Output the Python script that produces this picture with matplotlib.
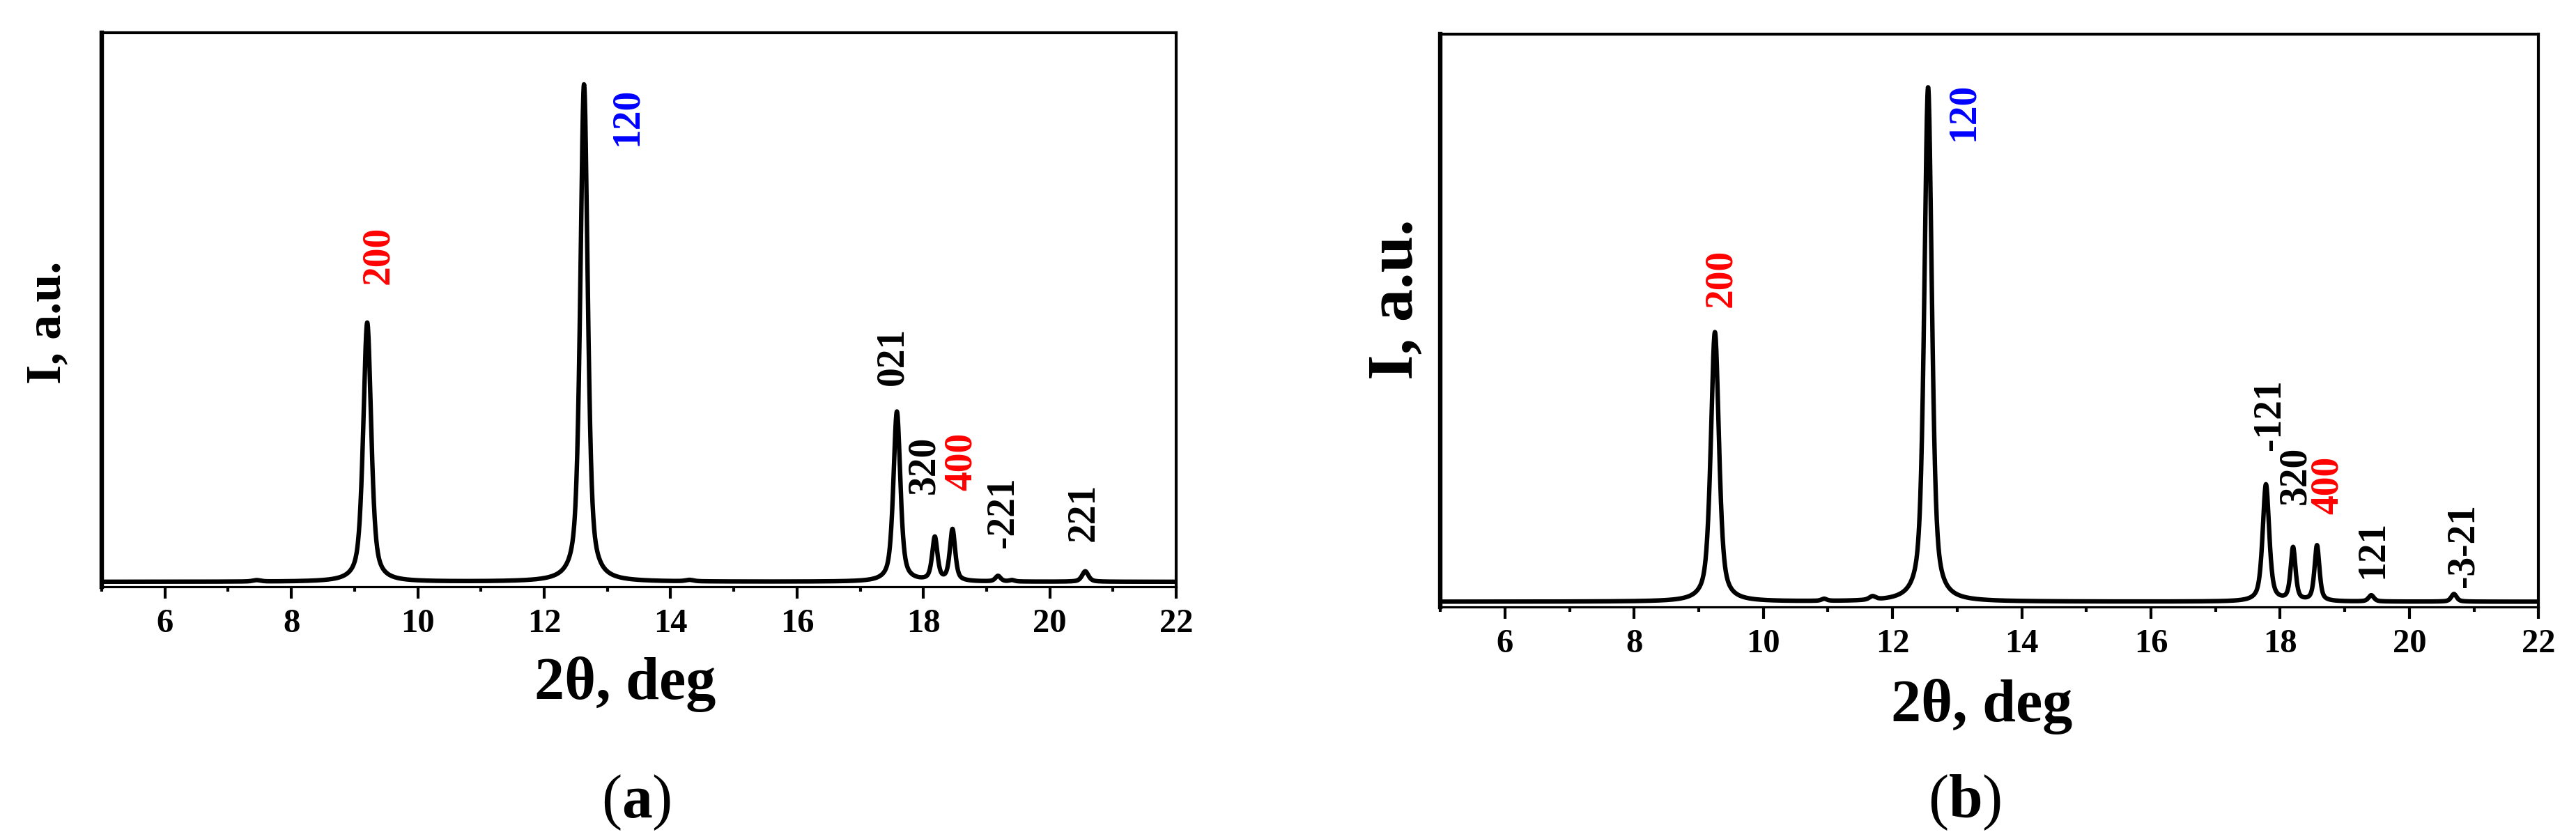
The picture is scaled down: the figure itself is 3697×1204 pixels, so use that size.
import numpy as np
import matplotlib
matplotlib.use('Agg')
import matplotlib.pyplot as plt
from matplotlib.ticker import MultipleLocator

plt.rcParams['font.family'] = ['Liberation Serif', 'DejaVu Serif']
plt.rcParams['font.weight'] = 'bold'
plt.rcParams['mathtext.fontset'] = 'custom'
plt.rcParams['mathtext.rm'] = 'Liberation Serif'
plt.rcParams['mathtext.bf'] = 'Liberation Serif:bold'

# peak table: position (2theta), height (a.u.), fwhm (deg)
pos_a = [7.45, 9.20, 12.63, 14.30, 17.58, 18.18, 18.46, 19.18, 19.40, 20.56]
amp_a = [2, 372, 714, 2, 244, 62, 74, 8, 2, 15]
fwhm_a = [0.15, 0.15, 0.14, 0.15, 0.13, 0.10, 0.10, 0.10, 0.10, 0.12]

pos_b = [9.25, 10.94, 11.69, 12.55, 17.78, 18.20, 18.57, 19.41, 20.69]
amp_b = [387, 3, 5, 739, 168, 76, 80, 9, 11]
fwhm_b = [0.15, 0.10, 0.12, 0.14, 0.12, 0.09, 0.09, 0.10, 0.10]

# reflection labels
hkl_a = ['200', '120', '021', '320', '400', '-221', '221']
col_a = ['red', 'blue', 'black', 'black', 'red', 'black', 'black']
hkl_b = ['200', '120', '-121', '320', '400', '121', '-3-21']
col_b = ['red', 'blue', 'black', 'black', 'red', 'black', 'black']

# label anchor points (2theta, intensity)
lx_a = [9.38, 13.31, 17.52, 18.01, 18.60, 19.26, 20.54]
ly_a = [469, 668, 324, 168, 173, 100, 100]
lx_b = [9.35, 13.10, 17.84, 18.24, 18.74, 19.44, 20.84]
ly_b = [464, 704, 268, 181, 167, 75, 81]


def pattern(x, pos, amp, fwhm, eta=0.6):
    y = np.zeros_like(x)
    for p, a, w in zip(pos, amp, fwhm):
        d = (x - p) / (w / 2)
        lor = 1.0 / (1 + d**2)
        gau = np.exp(-np.log(2) * d**2)
        y += a * (eta * lor + (1 - eta) * gau)
    return y


tt = np.linspace(5, 22, 4001)

fig = plt.figure(figsize=(36.98, 12.04), dpi=100)
ax1 = fig.add_axes([0.0395, 0.3003, 0.4170, 0.6607])
ax2 = fig.add_axes([0.5590, 0.2766, 0.4262, 0.6827])

panels = [
    (ax1, pos_a, amp_a, fwhm_a, hkl_a, col_a, lx_a, ly_a, 788, 52, (-0.0389, 0.477), (0.487, -0.2018)),
    (ax2, pos_b, amp_b, fwhm_b, hkl_b, col_b, lx_b, ly_b, 815, 68, (-0.0254, 0.5365), (0.493, -0.1995)),
]

for ax, pos, amp, fw, hkl, col, lx, ly, ytop, ysize, ylc, xlc in panels:
    ax.plot(tt, pattern(tt, pos, amp, fw), color='black', lw=4.6)
    for t, c, x, y in zip(hkl, col, lx, ly):
        ax.text(x, y, t, color=c, rotation=90, ha='center', va='center',
                fontsize=40, fontweight='bold')
    ax.set_xlim(5, 22)
    ax.set_ylim(-7.5, ytop)
    ax.xaxis.set_major_locator(MultipleLocator(2))
    ax.xaxis.set_minor_locator(MultipleLocator(1))
    ax.tick_params(axis='x', which='major', direction='out', length=12, width=3,
                   labelsize=35, pad=10, top=False)
    ax.tick_params(axis='x', which='minor', direction='out', length=5, width=3, top=False)
    ax.tick_params(axis='y', which='both', left=False, right=False, labelleft=False)
    ax.spines['left'].set_linewidth(4.6)
    ax.spines['top'].set_linewidth(3)
    ax.spines['right'].set_linewidth(3)
    ax.spines['bottom'].set_linewidth(2.3)

    ax.set_xlabel('2θ, deg', fontsize=62, fontweight='bold')
    ax.xaxis.set_label_coords(*xlc)
    ax.xaxis.label.set_verticalalignment('baseline')
    ax.set_ylabel('I, a.u.', fontsize=ysize, fontweight='bold')
    ax.yaxis.set_label_coords(*ylc)
    ax.yaxis.label.set_verticalalignment('baseline')

fig.text(913 / 3698, 1 - 1173 / 1204, r'($\mathbf{a}$)', fontsize=63,
         fontweight='normal', ha='center', va='baseline')
fig.text(2820 / 3698, 1 - 1173 / 1204, r'($\mathbf{b}$)', fontsize=63,
         fontweight='normal', ha='center', va='baseline')

fig.savefig('out.png', dpi=100)
